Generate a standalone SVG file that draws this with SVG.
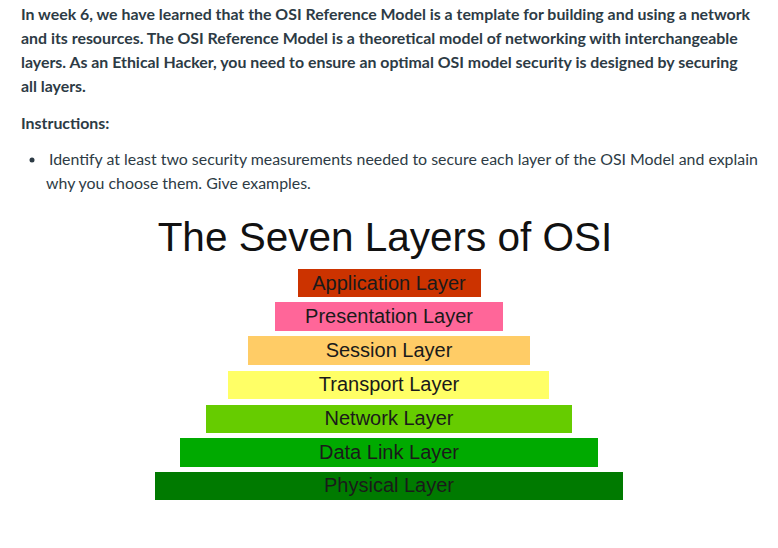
<svg xmlns="http://www.w3.org/2000/svg" width="778" height="548" viewBox="0 0 778 548">
<style>
.p{font-family:Lato,"Open Sans",sans-serif;font-size:15.9px;fill:#2d3b45}
.b{font-weight:bold}
.l{font-family:"Liberation Sans",Arial,sans-serif;font-size:20px;fill:#1a1a1a;text-anchor:middle}
</style>
<rect width="778" height="548" fill="#fff"/>
<g id="intro" class="p b">
<text x="21" y="20">In week 6, we have learned that the OSI Reference Model is a template for building and using a network</text>
<text x="21" y="44">and its resources. The OSI Reference Model is a theoretical model of networking with interchangeable</text>
<text x="21" y="68">layers. As an Ethical Hacker, you need to ensure an optimal OSI model security is designed by securing</text>
<text x="21" y="92">all layers.</text>
<text x="21" y="129">Instructions:</text>
</g>
<g id="bullet" class="p">
<circle cx="32" cy="160" r="2.5" fill="#2d3b45"/>
<text x="49" y="165">Identify at least two security measurements needed to secure each layer of the OSI Model and explain</text>
<text x="46" y="189">why you choose them. Give examples.</text>
</g>
<text id="title" x="385" y="251" font-family="Liberation Sans,Arial,sans-serif" font-size="40.5" text-anchor="middle" fill="#111">The Seven Layers of OSI</text>
<g id="app"><rect x="298" y="269" width="183" height="28" fill="#cc3300"/><text class="l" x="389" y="290">Application Layer</text></g>
<g id="pres"><rect x="275" y="302" width="228" height="29" fill="#ff6699"/><text class="l" x="389" y="323">Presentation Layer</text></g>
<g id="sess"><rect x="248" y="336" width="282" height="29" fill="#ffcc66"/><text class="l" x="389" y="357">Session Layer</text></g>
<g id="trans"><rect x="228" y="371" width="321" height="28" fill="#ffff66"/><text class="l" x="389" y="391">Transport Layer</text></g>
<g id="net"><rect x="206" y="405" width="366" height="28" fill="#66cc00"/><text class="l" x="389" y="425">Network Layer</text></g>
<g id="dl"><rect x="180" y="438" width="418" height="29" fill="#00aa00"/><text class="l" x="389" y="459">Data Link Layer</text></g>
<g id="phys"><rect x="155" y="472" width="468" height="28" fill="#007a00"/><text class="l" x="389" y="492">Physical Layer</text></g>
<g id="connectors"/>
</svg>
